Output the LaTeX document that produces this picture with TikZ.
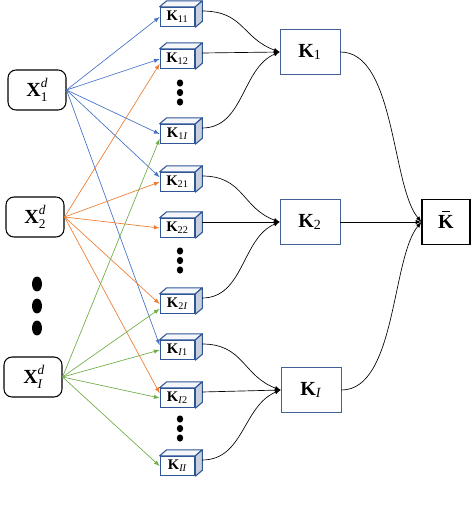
\documentclass[tikz,border=0pt]{standalone}
\usepackage{fontspec}
\setmainfont{Liberation Serif}
\usetikzlibrary{arrows, shapes, positioning}
\definecolor{arrblue}{RGB}{68,114,196}
\definecolor{arrorange}{RGB}{237,125,49}
\definecolor{arrgreen}{RGB}{112,173,71}
\definecolor{cubeblue}{RGB}{47,85,151}
\definecolor{kblue}{RGB}{68,94,150}
\definecolor{cubetop}{RGB}{244,246,250}
\definecolor{cubeside}{RGB}{200,208,220}

\newcommand{\xlab}[1]{\textbf{X}\rlap{\raisebox{0.95ex}{\fontsize{10}{10}\selectfont\textit{d}}}\raisebox{-0.55ex}{\fontsize{10}{10}\selectfont #1}}
\newcommand{\klab}[1]{\textbf{K}\textsubscript{#1}}

\begin{document}
\begin{tikzpicture}[x=0.75pt, y=-0.75pt,
  xbox/.style={draw, thick, rounded corners=6pt, minimum width=43.5pt, minimum height=30pt, inner sep=0pt, font=\fontsize{15}{18}\selectfont},
  cube/.style={draw=cubeblue, thick, fill=white, minimum width=26pt, minimum height=14.5pt, inner sep=0pt, font=\fontsize{11}{12}\selectfont},
  kbox/.style={draw=kblue, semithick, minimum width=45pt, minimum height=34pt, inner sep=0pt, font=\fontsize{15}{18}\selectfont},
  barbox/.style={draw, thick, minimum width=36pt, minimum height=34pt, inner sep=0pt, font=\fontsize{15}{18}\selectfont},
  bluearr/.style={-latex, arrblue, line width=0.5pt},
  orangearr/.style={-latex, arrorange, line width=0.5pt},
  greenarr/.style={-latex, arrgreen, line width=0.5pt},
  link/.style={-latex, line width=0.5pt}]
\useasboundingbox (0,0) rectangle (474,529);

%% inputs
\node[xbox] (x1) at (37,90) {\xlab{1}};
\node[xbox] (x2) at (35,217) {\xlab{2}};
\node[xbox] (xI) at (33,377) {\xlab{\textit{I}}};
\fill (37,284) ellipse [x radius=3.75pt, y radius=5.6pt];
\fill (37,306) ellipse [x radius=3.75pt, y radius=5.6pt];
\fill (37,328) ellipse [x radius=3.75pt, y radius=5.6pt];

%% kernels, front faces
\node[cube] (k11) at (177.5,17) {\klab{11}};
\node[cube] (k12) at (177.5,59) {\klab{12}};
\node[cube] (k1I) at (177.5,134) {\klab{1\textit{I}}};
\node[cube] (k21) at (177.5,182) {\klab{21}};
\node[cube] (k22) at (177.5,228) {\klab{22}};
\node[cube] (k2I) at (177.5,304) {\klab{2\textit{I}}};
\node[cube] (kI1) at (177.5,350) {\klab{\textit{I}1}};
\node[cube] (kI2) at (177.5,398) {\klab{\textit{I}2}};
\node[cube] (kII) at (177.5,466) {\klab{\textit{II}}};
%% top and side faces
\foreach \c in {k11,k12,k1I,k21,k22,k2I,kI1,kI2,kII}{
  \filldraw[draw=cubeblue, fill=cubetop, thick, line join=round] (\c.north west) -- ++(7,-6) -- ([shift={(7,-6)}]\c.north east) -- (\c.north east) -- cycle;
  \filldraw[draw=cubeblue, fill=cubeside, thick, line join=round] (\c.north east) -- ++(7,-6) -- ([shift={(7,-6)}]\c.south east) -- (\c.south east) -- cycle;
}
\foreach \y in {0,168,336}{
  \foreach \d in {0,9.5,19}
    \fill (180,83+\y+\d) ellipse [x radius=2.4pt, y radius=2.7pt];
}

%% input arrows
\foreach \t in {k11,k12,k1I} \draw[bluearr] (x1.east) -- (\t.west);
\draw[bluearr] (x1.east) -- (k21.165);
\draw[bluearr] (x1.east) -- (kI1.165);
\foreach \t in {k21,k22,k2I} \draw[orangearr] (x2.east) -- (\t.west);
\draw[orangearr] (x2.east) -- (k12.195);
\draw[orangearr] (x2.east) -- (kI2.165);
\foreach \t in {kI1,kI2,kII} \draw[greenarr] (xI.east) -- (\t.west);
\draw[greenarr] (xI.east) -- (k1I.195);
\draw[greenarr] (xI.east) -- (k2I.195);

%% group kernels
\node[kbox] (k1) at (310,52) {\klab{1}};
\node[kbox] (k2) at (310,222) {\klab{2}};
\node[kbox] (kI) at (311,390) {\klab{\textit{I}}};
\node[barbox] (kbar) at (446,222) {\textbf{K}};
\draw[line width=1pt] ([xshift=-3pt,yshift=7.8pt]kbar.center) -- ([xshift=3pt,yshift=7.8pt]kbar.center);

\draw[link] ([xshift=5pt,yshift=4.5pt]k11.east) .. controls +(42,0) and +(-38,-14) .. (k1.west);
\draw[link] ([xshift=5pt,yshift=4.5pt]k12.east) -- (k1.west);
\draw[link] ([xshift=5pt,yshift=4.5pt]k1I.east) .. controls +(42,0) and +(-38,16) .. (k1.west);
\draw[link] ([xshift=5pt,yshift=4.5pt]k21.east) .. controls +(42,0) and +(-38,-14) .. (k2.west);
\draw[link] ([xshift=5pt,yshift=4.5pt]k22.east) -- (k2.west);
\draw[link] ([xshift=5pt,yshift=4.5pt]k2I.east) .. controls +(42,0) and +(-38,16) .. (k2.west);
\draw[link] ([xshift=5pt,yshift=4.5pt]kI1.east) .. controls +(42,0) and +(-38,-14) .. (kI.west);
\draw[link] ([xshift=5pt,yshift=4.5pt]kI2.east) -- (kI.west);
\draw[link] ([xshift=5pt,yshift=4.5pt]kII.east) .. controls +(42,0) and +(-38,16) .. (kI.west);

\draw[link] (k1.east) .. controls +(55,0) and +(-30,-35) .. (kbar.west);
\draw[link] (k2.east) -- (kbar.west);
\draw[link] (kI.east) .. controls +(55,0) and +(-30,35) .. (kbar.west);
\end{tikzpicture}
\end{document}
